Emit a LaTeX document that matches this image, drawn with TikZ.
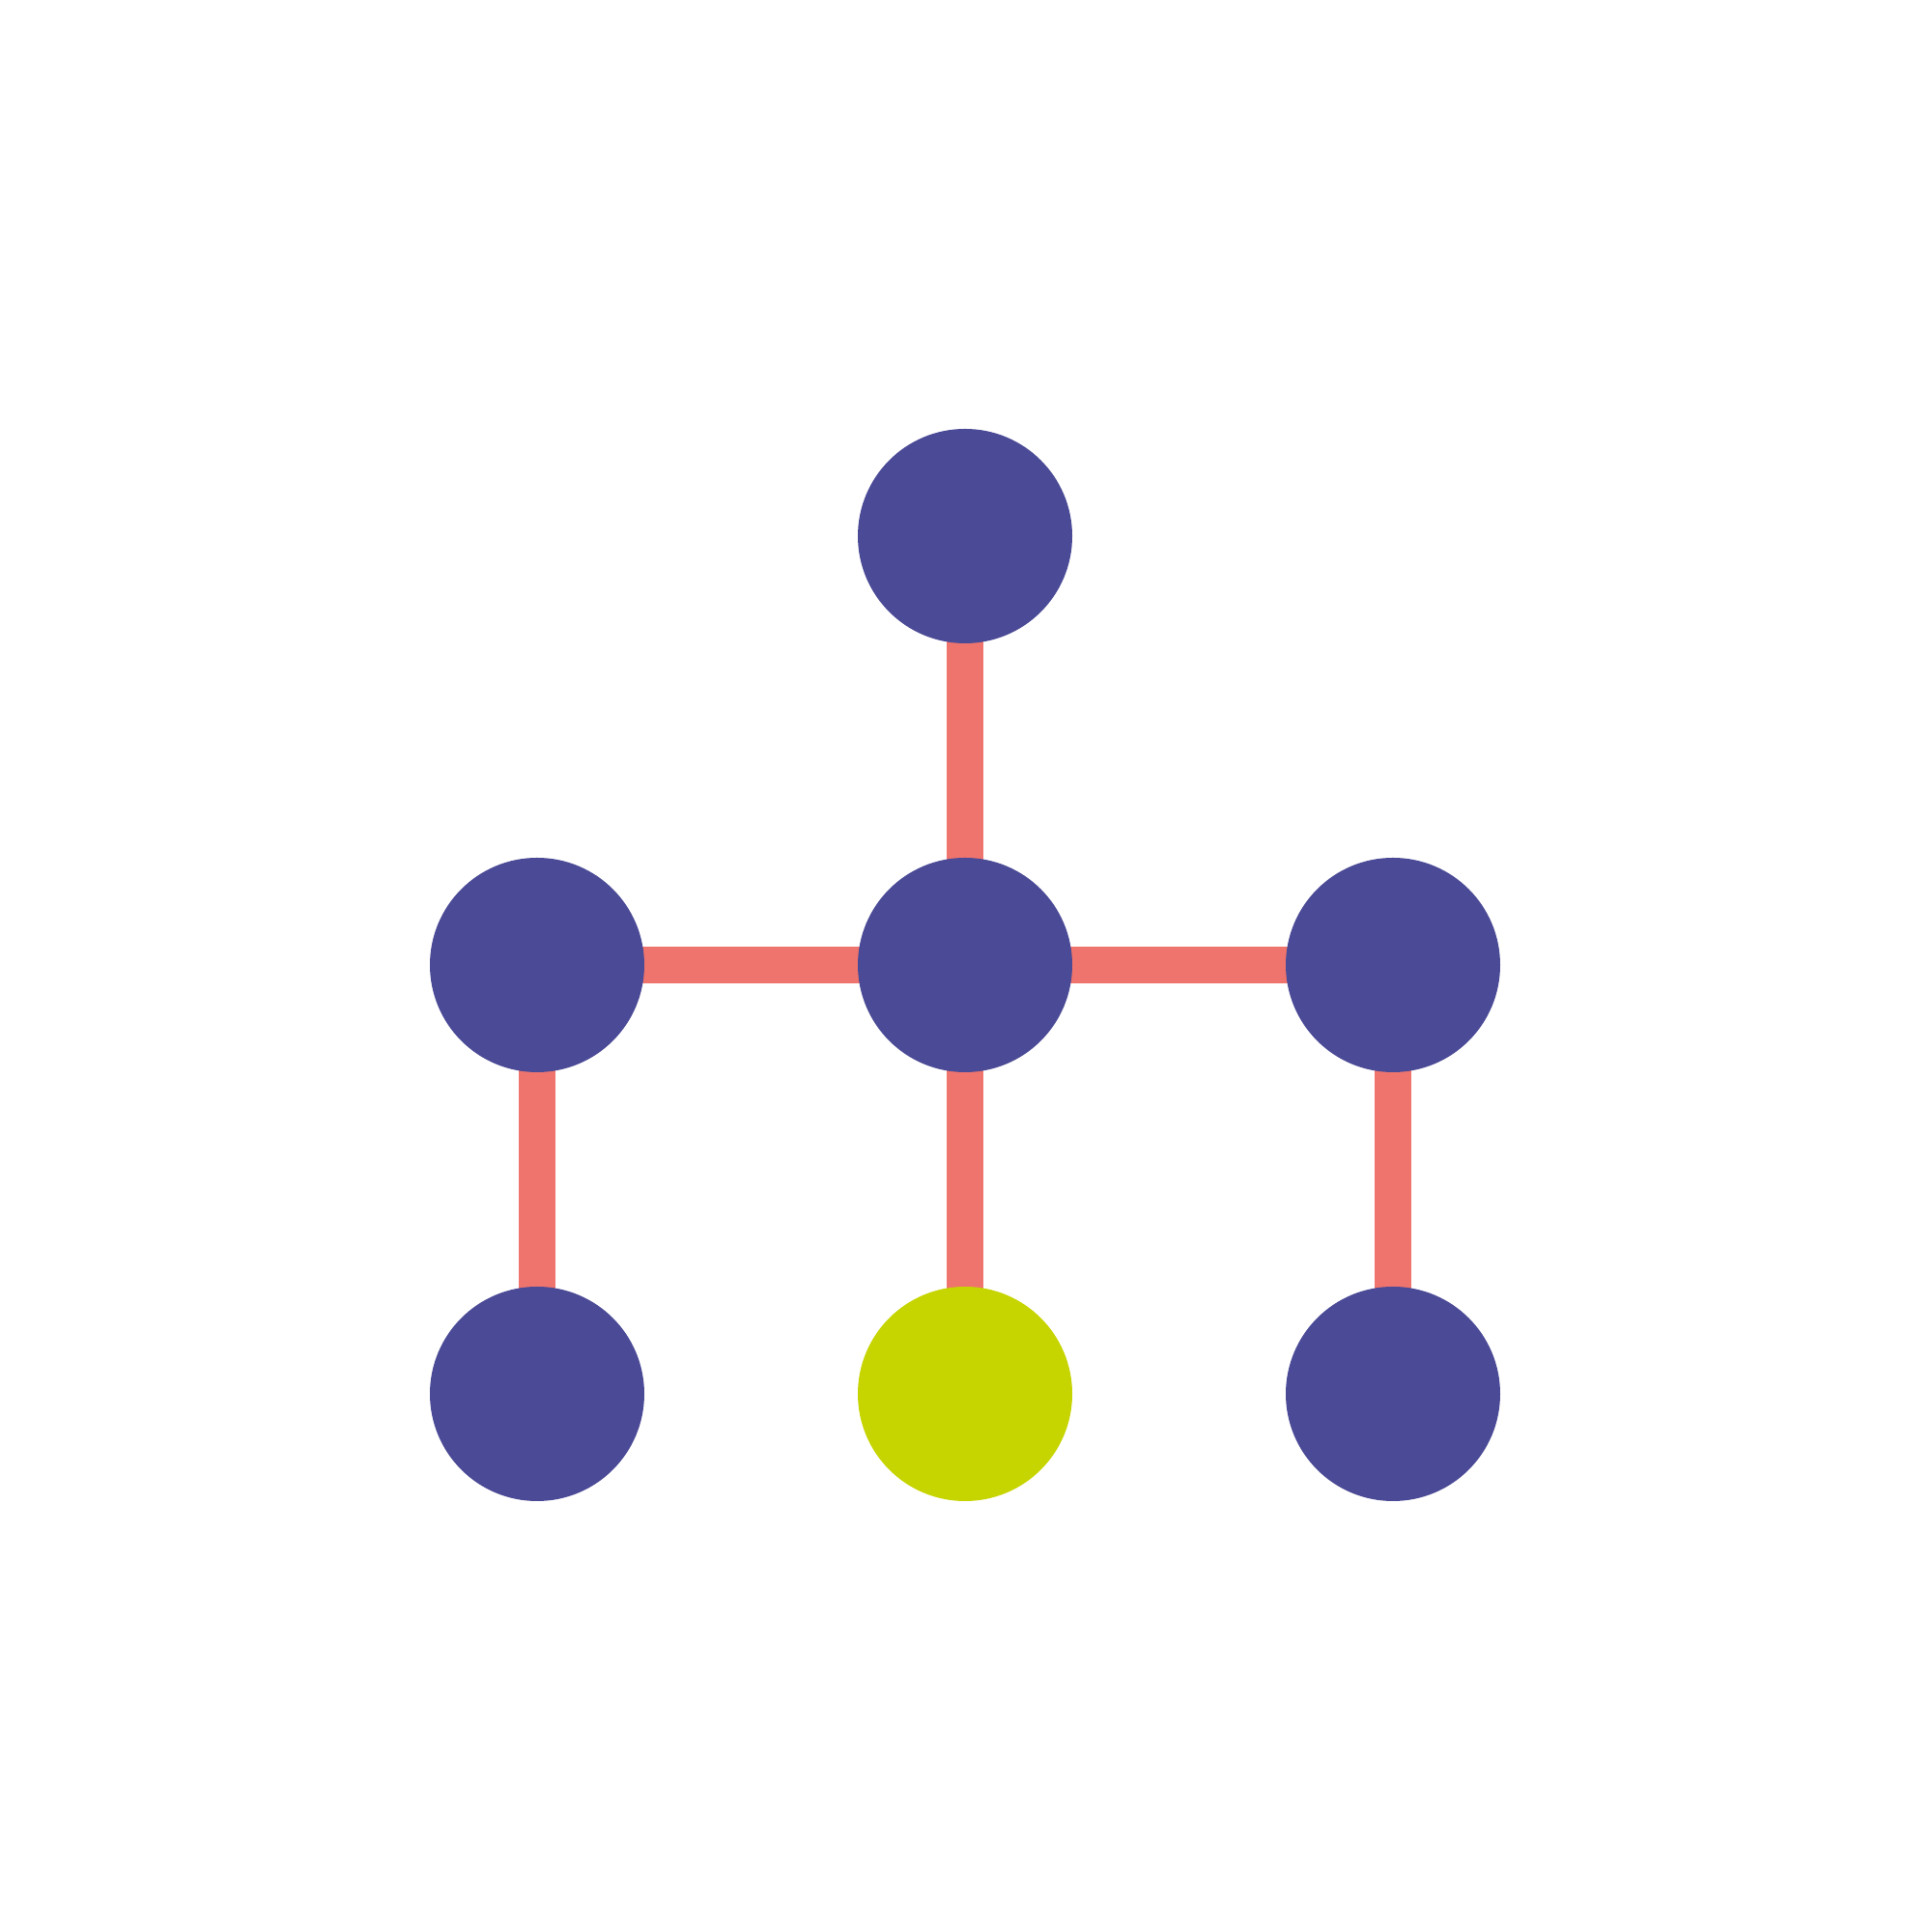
\documentclass[tikz,border=0pt]{standalone}
\usetikzlibrary{backgrounds}
\definecolor{morado}{HTML}{4B4A96}
\definecolor{salmon}{HTML}{EE746D}
\definecolor{lima}{HTML}{C6D400}
\begin{document}
\begin{tikzpicture}[
    punto/.style={circle, fill=morado, minimum size=2.22cm, inner sep=0pt, outer sep=0pt},
    enlace/.style={draw=salmon, line width=0.38cm}
  ]
  \useasboundingbox (0,0) rectangle (20,19.98);

  % Nodos
  \node[punto] (arriba) at (9.99,14.43) {};
  \node[punto] (izq) at (5.56,9.99) {};
  \node[punto] (centro) at (9.99,9.99) {};
  \node[punto] (der) at (14.42,9.99) {};
  \node[punto] (abajoizq) at (5.56,5.55) {};
  \node[punto, fill=lima] (abajo) at (9.99,5.55) {};
  \node[punto] (abajoder) at (14.42,5.55) {};

  % Enlaces
  \begin{scope}[on background layer]
    \draw[enlace] (arriba.center) -- (centro.center);
    \draw[enlace] (izq.center) -- (der.center);
    \draw[enlace] (izq.center) -- (abajoizq.center);
    \draw[enlace] (centro.center) -- (abajo.center);
    \draw[enlace] (der.center) -- (abajoder.center);
  \end{scope}

\end{tikzpicture}
\end{document}
